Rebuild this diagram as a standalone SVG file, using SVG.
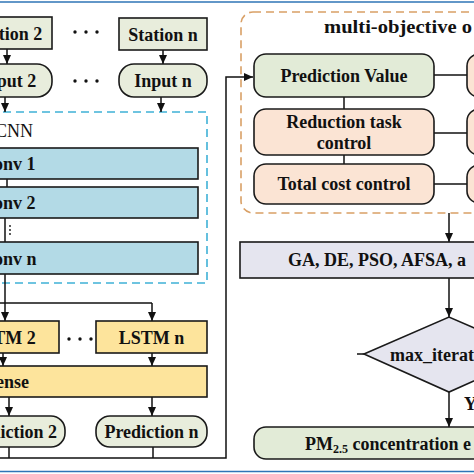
<svg xmlns="http://www.w3.org/2000/svg" width="474" height="474" viewBox="0 0 474 474">
<defs>
<marker id="ar" markerUnits="userSpaceOnUse" markerWidth="10" markerHeight="10" refX="9" refY="5" orient="auto">
<path d="M0,1 L9,5 L0,9 Z" fill="#111"/>
</marker>
<style>
.t{font-family:"Liberation Serif","Times New Roman",serif;font-weight:bold;font-size:18px;fill:#111}
.tn{font-family:"Liberation Serif","Times New Roman",serif;font-size:18px;fill:#111}
.bx{stroke:#1a1a1a;stroke-width:1.6}
.g{fill:#e8eddc}
.pv{fill:#e2ebd7}
.pe{fill:#fbe4d4}
.bl{fill:#b3dae6}
.go{fill:#fde49c}
.la{fill:#e5e5ef}
.c{fill:none;stroke:#111;stroke-width:1.5}
.ca{fill:none;stroke:#111;stroke-width:1.5;marker-end:url(#ar)}
</style>
</defs>
<rect width="474" height="474" fill="#fff"/>
<line x1="0" y1="2" x2="474" y2="2" stroke="#2e75b6" stroke-width="1.5"/>
<line x1="0" y1="471.5" x2="474" y2="471.5" stroke="#2e75b6" stroke-width="1.5"/>

<!-- containers -->
<rect id="cnn-box" x="-10" y="112" width="217" height="171" fill="none" stroke="#3fb1d6" stroke-width="1.6" stroke-dasharray="8 5"/>
<rect id="moo-box" x="241" y="12" width="260" height="201" rx="12" fill="none" stroke="#d9a066" stroke-width="1.6" stroke-dasharray="8 5"/>

<!-- connectors -->
<g id="connectors">
<line class="ca" x1="7" y1="49" x2="7" y2="64"/>
<line class="ca" x1="163" y1="50" x2="163" y2="64"/>
<line class="ca" x1="5" y1="97" x2="5" y2="112"/>
<line class="ca" x1="161" y1="97" x2="161" y2="112"/>
<line class="c" x1="7" y1="179" x2="7" y2="187"/>
<line class="c" x1="5" y1="218" x2="5" y2="242"/>
<polyline class="c" points="5,274 5,303"/>
<line class="c" x1="-5" y1="303" x2="152" y2="303"/>
<line class="ca" x1="5" y1="303" x2="5" y2="321"/>
<line class="ca" x1="152" y1="303" x2="152" y2="321"/>
<line class="ca" x1="3" y1="353" x2="3" y2="366"/>
<line class="ca" x1="152" y1="353" x2="152" y2="366"/>
<line class="ca" x1="9" y1="397" x2="9" y2="416"/>
<line class="ca" x1="152" y1="397" x2="152" y2="416"/>
<line class="c" x1="9" y1="447" x2="9" y2="458"/>
<line class="c" x1="153" y1="447" x2="153" y2="458"/>
<polyline class="ca" points="-5,458 226,458 226,77 253,77"/>
<line class="c" x1="344" y1="97" x2="344" y2="109"/>
<line class="c" x1="344" y1="155" x2="344" y2="164"/>
<line class="c" x1="434" y1="75" x2="467" y2="75"/>
<line class="c" x1="434" y1="133" x2="467" y2="133"/>
<line class="c" x1="434" y1="184" x2="467" y2="184"/>
<line class="ca" x1="449" y1="213" x2="449" y2="242"/>
<line class="ca" x1="449" y1="278" x2="449" y2="317"/>
<line class="ca" x1="449" y1="392" x2="449" y2="427"/>
<line class="c" x1="357" y1="354" x2="364" y2="354"/>
</g>

<!-- dots -->
<g id="ellipses" fill="#111">
<circle cx="75" cy="32" r="1.7"/><circle cx="86" cy="32" r="1.7"/><circle cx="97" cy="32" r="1.7"/>
<circle cx="75" cy="81" r="1.7"/><circle cx="86" cy="81" r="1.7"/><circle cx="97" cy="81" r="1.7"/>
<circle cx="69" cy="339" r="1.7"/><circle cx="80" cy="339" r="1.7"/><circle cx="91" cy="339" r="1.7"/>
<circle cx="10" cy="226" r="0.9"/><circle cx="10" cy="230" r="0.9"/><circle cx="10" cy="234" r="0.9"/>
</g>

<text class="tn" x="33" y="137" text-anchor="end">CNN</text>

<g id="station2"><rect class="bx g" x="-36" y="17" width="88" height="32"/><text class="t" x="8" y="40" text-anchor="middle">Station 2</text></g>
<g id="stationn"><rect class="bx g" x="119" y="18" width="88" height="32"/><text class="t" x="163" y="41" text-anchor="middle">Station n</text></g>
<g id="input2"><rect class="bx g" x="-36" y="64" width="88" height="33" rx="15"/><text class="t" x="8" y="87" text-anchor="middle">Input 2</text></g>
<g id="inputn"><rect class="bx g" x="119" y="64" width="88" height="33" rx="15"/><text class="t" x="163" y="87" text-anchor="middle">Input n</text></g>

<g id="conv1"><rect class="bx bl" x="-40" y="148" width="238" height="31"/><text class="t" x="-19" y="170">Conv 1</text></g>
<g id="conv2"><rect class="bx bl" x="-40" y="187" width="238" height="31"/><text class="t" x="-19" y="209">Conv 2</text></g>
<g id="convn"><rect class="bx bl" x="-40" y="242" width="238" height="32"/><text class="t" x="-19" y="265">Conv n</text></g>

<g id="lstm2"><rect class="bx go" x="-52" y="321" width="111" height="32"/><text class="t" x="3.5" y="344" text-anchor="middle">LSTM 2</text></g>
<g id="lstmn"><rect class="bx go" x="96" y="321" width="111" height="32"/><text class="t" x="151.5" y="344" text-anchor="middle">LSTM n</text></g>
<g id="dense"><rect class="bx go" x="-60" y="366" width="267" height="31"/><text class="t" x="29" y="388" text-anchor="end">Dense</text></g>
<g id="pred2"><rect class="bx g" x="-60" y="416" width="125" height="31" rx="14"/><text class="t" x="57" y="438" text-anchor="end">Prediction 2</text></g>
<g id="predn"><rect class="bx g" x="96" y="416" width="111" height="31" rx="14"/><text class="t" x="151.5" y="438" text-anchor="middle">Prediction n</text></g>

<text class="t" x="324" y="33" font-size="19" textLength="148" lengthAdjust="spacingAndGlyphs">multi-objective o</text>
<g id="predval"><rect class="bx pv" x="254" y="54" width="180" height="43" rx="12"/><text class="t" x="344" y="82" text-anchor="middle">Prediction Value</text></g>
<g id="reduction"><rect class="bx pe" x="254" y="109" width="180" height="46" rx="12"/><text class="t" x="344" y="128" text-anchor="middle">Reduction task</text><text class="t" x="344" y="149" text-anchor="middle">control</text></g>
<g id="totalcost"><rect class="bx pe" x="254" y="164" width="180" height="40" rx="12"/><text class="t" x="344" y="190" text-anchor="middle">Total cost control</text></g>
<g id="r1"><rect class="bx pe" x="467" y="54" width="60" height="43" rx="12"/></g>
<g id="r2"><rect class="bx pe" x="467" y="109" width="60" height="46" rx="12"/></g>
<g id="r3"><rect class="bx pe" x="467" y="165" width="60" height="38" rx="12"/></g>

<g id="algos"><rect class="bx la" x="240" y="242" width="260" height="36"/><text class="t" x="288" y="266" font-size="18.5">GA, DE, PSO, AFSA, a</text></g>
<g id="decision"><polygon class="bx la" points="364,354 449,317 534,354 449,392"/><text class="t" x="390" y="361">max_iterat</text></g>
<text class="t" x="464" y="410">Y</text>
<g id="pm"><rect class="bx pv" x="254" y="427" width="260" height="32" rx="12"/><text class="t" x="305" y="450">PM<tspan font-size="12" dy="3">2.5</tspan><tspan dy="-3"> concentration e</tspan></text></g>
</svg>
